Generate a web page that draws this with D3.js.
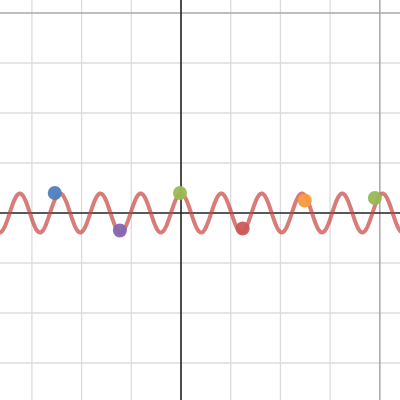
<!DOCTYPE html>
<html>
<head>
<meta charset="utf-8">
<script src="https://cdn.jsdelivr.net/npm/d3@7"></script>
<style>
  body { margin: 0; background: #fff; }
  svg { display: block; }
</style>
</head>
<body>
<svg id="chart" width="400" height="400"></svg>
<script>
// wave parameters (y = amp * cos(2*pi*x / period))
var waveAmp = 0.39;
var wavePeriod = 0.811;

// dots
var pointX = [-2.54, -1.23, -0.02, 1.24, 2.49, 3.9];
var pointY = [0.40, -0.35, 0.40, -0.31, 0.25, 0.30];
var pointColors = ["#4f7fbf", "#8466b0", "#9bbb52", "#cc5a58", "#f8993f", "#97b956"];

var minorTicks = [-3, -2, -1, 1, 2, 3];
var majorTicks = [-4, 4];

var svg = d3.select("#chart");
var width = 400, height = 400;

var x = d3.scaleLinear().domain([-3.642, 4.406]).range([0, width]);
var y = d3.scaleLinear().domain([-3.74, 4.26]).range([height, 0]);

// minor grid
svg.selectAll("line.vx").data(minorTicks).enter().append("line")
    .attr("x1", function(d){return x(d);}).attr("x2", function(d){return x(d);})
    .attr("y1", 0).attr("y2", height)
    .attr("stroke", "#dcdcdc").attr("stroke-width", 1.3);
svg.selectAll("line.hy").data(minorTicks).enter().append("line")
    .attr("y1", function(d){return y(d);}).attr("y2", function(d){return y(d);})
    .attr("x1", 0).attr("x2", width)
    .attr("stroke", "#dcdcdc").attr("stroke-width", 1.3);

// major grid
svg.selectAll("line.mx").data(majorTicks).enter().append("line")
    .attr("x1", function(d){return x(d);}).attr("x2", function(d){return x(d);})
    .attr("y1", 0).attr("y2", height)
    .attr("stroke", "#a8a8a8").attr("stroke-width", 1.5);
svg.selectAll("line.my").data(majorTicks).enter().append("line")
    .attr("y1", function(d){return y(d);}).attr("y2", function(d){return y(d);})
    .attr("x1", 0).attr("x2", width)
    .attr("stroke", "#a8a8a8").attr("stroke-width", 1.5);

// axes
svg.append("line").attr("x1", x(0)).attr("x2", x(0)).attr("y1", 0).attr("y2", height)
    .attr("stroke", "#222").attr("stroke-width", 1.6);
svg.append("line").attr("y1", y(0)).attr("y2", y(0)).attr("x1", 0).attr("x2", width)
    .attr("stroke", "#222").attr("stroke-width", 1.6);

// curve
var xs = d3.range(-3.7, 4.5, 0.01);
var line = d3.line()
    .x(function(d){return x(d);})
    .y(function(d){return y(waveAmp * Math.cos(2 * Math.PI * d / wavePeriod));});
svg.append("path").datum(xs)
    .attr("d", line)
    .attr("fill", "none")
    .attr("stroke", "#c74440").attr("stroke-opacity", 0.7)
    .attr("stroke-width", 4);

// points
svg.selectAll("circle").data(pointX).enter().append("circle")
    .attr("cx", function(d){return x(d);})
    .attr("cy", function(d, i){return y(pointY[i]);})
    .attr("r", 7)
    .attr("fill", function(d, i){return pointColors[i];})
    .attr("fill-opacity", 0.95);
</script>
</body>
</html>
